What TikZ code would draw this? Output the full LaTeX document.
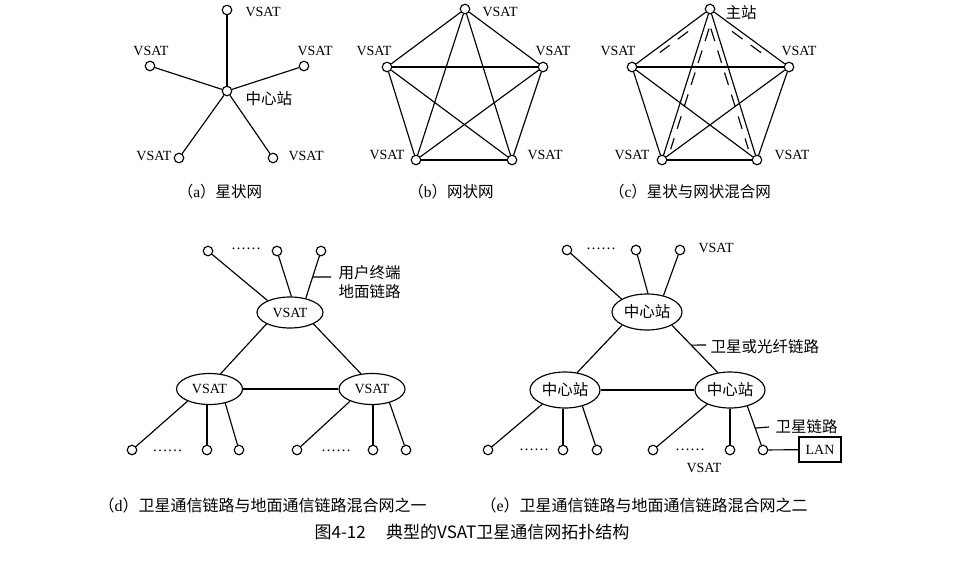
\documentclass[tikz,border=0pt]{standalone}
\usepackage{fontspec}
\setmainfont{Liberation Serif}
\newfontfamily\cjk{Noto Sans CJK SC}
\usetikzlibrary{shapes.geometric,calc}
\tikzset{
 stn/.style={circle,draw,fill=white,minimum size=9.5pt,inner sep=0pt},
 lbl/.style={inner sep=0pt,font=\fontsize{14}{16}\selectfont},
 zh/.style={inner sep=0pt,font=\fontsize{15.5}{19}\selectfont\cjk},
 capabc/.style={inner sep=0pt,font=\fontsize{15.5}{18}\selectfont},
 capde/.style={inner sep=0pt,anchor=west,font=\fontsize{16}{19}\selectfont},
 vell/.style={ellipse,draw,inner sep=0pt,minimum width=66pt,minimum height=31pt,font=\fontsize{14}{16}\selectfont},
 zell/.style={ellipse,draw,inner sep=0pt,minimum width=70pt,minimum height=36pt,font=\fontsize{15.5}{18}\selectfont\cjk},
 dotsnode/.style={inner sep=0pt,anchor=base,font=\fontsize{15}{16}\selectfont},
 dashln/.style={dash pattern=on 13pt off 10pt},
}
\begin{document}
\begin{tikzpicture}[x=1pt,y=-1pt,line width=1.15pt]
\useasboundingbox (0,0) rectangle (969,562);
% ---------- (a) ----------
\node[stn] (aC) at (227,91) {};
\node[stn] (a1) at (227,10) {};
\node[stn] (a2) at (150,66) {};
\node[stn] (a3) at (304,66) {};
\node[stn] (a4) at (179,158) {};
\node[stn] (a5) at (273,158) {};
\foreach \i in {1,...,5} \draw (aC) -- (a\i);
\node[lbl,anchor=west] (la1) at (245,12) {VSAT};
\node[lbl] (la2) at (151,51) {VSAT};
\node[lbl,anchor=west] (la3) at (297,51) {VSAT};
\node[lbl,anchor=east] (la4) at (172,156) {VSAT};
\node[lbl,anchor=west] (la5) at (288,156) {VSAT};
\node[zh,anchor=west] (laC) at (245,99) {中心站};
\node[capabc] (capa) at (220,192) {{\cjk （}a{\cjk ）星状网}};
% ---------- (b) ----------
\node[stn] (bT) at (465,9) {};
\node[stn] (bL) at (387,67) {};
\node[stn] (bR) at (543,67) {};
\node[stn] (bBL) at (416,160) {};
\node[stn] (bBR) at (512,160) {};
\foreach \p/\q in {bT/bL,bT/bR,bT/bBL,bT/bBR,bL/bR,bL/bBL,bL/bBR,bR/bBL,bR/bBR,bBL/bBR} \draw (\p) -- (\q);
\node[lbl,anchor=west] (lb1) at (482,12) {VSAT};
\node[lbl] (lb2) at (374,51) {VSAT};
\node[lbl] (lb3) at (553,51) {VSAT};
\node[lbl] (lb4) at (387,155) {VSAT};
\node[lbl,anchor=west] (lb5) at (527,155) {VSAT};
\node[capabc] (capb) at (451,192) {{\cjk （}b{\cjk ）网状网}};
% ---------- (c) ----------
\node[stn] (cT) at (710,9) {};
\node[stn] (cL) at (632,67) {};
\node[stn] (cR) at (789,67) {};
\node[stn] (cBL) at (662,160) {};
\node[stn] (cBR) at (757,160) {};
\foreach \p/\q in {cT/cL,cT/cR,cT/cBL,cT/cBR,cL/cR,cL/cBL,cL/cBR,cR/cBL,cR/cBR,cBL/cBR} \draw (\p) -- (\q);
\draw[dashln,shorten <=31pt,shorten >=31pt] ($(cT)!5pt!90:(cL)$) -- ($(cL)!5pt!-90:(cT)$);
\draw[dashln,shorten <=31pt,shorten >=31pt] ($(cT)!5pt!-90:(cR)$) -- ($(cR)!5pt!90:(cT)$);
\draw[dashln,shorten <=19pt,shorten >=13pt] ($(cT)!5pt!90:(cBL)$) -- ($(cBL)!5pt!-90:(cT)$);
\draw[dashln,shorten <=19pt,shorten >=13pt] ($(cT)!5pt!-90:(cBR)$) -- ($(cBR)!5pt!90:(cT)$);
\node[zh,anchor=west] (lc1) at (725,13) {主站};
\node[lbl] (lc2) at (618,51) {VSAT};
\node[lbl] (lc3) at (799,51) {VSAT};
\node[lbl] (lc4) at (632,155) {VSAT};
\node[lbl] (lc5) at (792,155) {VSAT};
\node[capabc] (capc) at (690,192) {{\cjk （}c{\cjk ）星状与网状混合网}};
% ---------- (d) ----------
\node[vell] (dT) at (290,312.5) {VSAT};
\node[vell] (dL) at (209.5,389) {VSAT};
\node[vell] (dR) at (372,389) {VSAT};
\node[stn] (d1) at (208,251) {};
\node[stn] (d2) at (277,251) {};
\node[stn] (d3) at (321,251) {};
\node[stn] (d4) at (132,450) {};
\node[stn] (d5) at (207,450) {};
\node[stn] (d6) at (239,450) {};
\node[stn] (d7) at (297,450) {};
\node[stn] (d8) at (373,450) {};
\node[stn] (d9) at (406,450) {};
\draw (d1) -- (dT.152);
\draw (d2) -- (dT.85);
\draw (d3) -- (dT.42);
\draw (dT.206) -- (dL.54);
\draw (dT.334) -- (dR.126);
\draw (dL) -- (dR);
\draw (d4) -- (dL.209);
\draw (d5) -- (d5 |- dL.south);
\draw (d6) -- (dL.318);
\draw (d7) -- (dR.209);
\draw (d8) -- (d8 |- dR.south);
\draw (d9) -- (dR.322);
\node[dotsnode] (dd1) at (246,249.5) {……};
\node[dotsnode] (dd2) at (167.5,451) {……};
\node[dotsnode] (dd3) at (336,451) {……};
\node[zh,anchor=west,align=left] (dlab) at (338,282.5) {用户终端\\地面链路};
\coordinate (dlk) at ($(d3)!0.55!(dT.42)$);
\coordinate (dle) at (331,277);
\draw (dlk) -- (dle);
\node[capde] (capd) at (98,505) {{\cjk （}d{\cjk ）卫星通信链路与地面通信链路混合网之一}};
% ---------- (e) ----------
\node[zell] (eT) at (647,312) {中心站};
\node[zell] (eL) at (565,390) {中心站};
\node[zell] (eR) at (730,390) {中心站};
\node[stn] (e1) at (567,250) {};
\node[stn] (e2) at (636,250) {};
\node[stn] (e3) at (680,250) {};
\node[stn] (e4) at (488,450) {};
\node[stn] (e5) at (563,450) {};
\node[stn] (e6) at (597,450) {};
\node[stn] (e7) at (653,450) {};
\node[stn] (e8) at (730,450) {};
\node[stn] (e9) at (763,450) {};
\draw (e1) -- (eT.153);
\draw (e2) -- (eT.87);
\draw (e3) -- (eT.45);
\draw (eT.208) -- (eL.55);
\draw (eT.332) -- (eR.125);
\draw (eL) -- (eR);
\draw (e4) -- (eL.212);
\draw (e5) -- (e5 |- eL.south);
\draw (e6) -- (eL.317);
\draw (e7) -- (eR.212);
\draw (e8) -- (eR);
\draw (e9) -- (eR.317);
\node[dotsnode] (ed1) at (601,249.5) {……};
\node[dotsnode] (ed2) at (534,450.5) {……};
\node[dotsnode] (ed3) at (690,450.5) {……};
\node[lbl,anchor=west] (leV1) at (698,248) {VSAT};
\node[lbl] (leV2) at (704,468) {VSAT};
\node[zh,anchor=west] (elab1) at (710,347) {卫星或光纤链路};
\node[zh,anchor=west] (elab2) at (775,427) {卫星链路};
\coordinate (ek1) at ($(eT.332)!0.42!(eR.125)$);
\coordinate (ek1e) at (706,345);
\draw (ek1) -- (ek1e);
\coordinate (ek2) at ($(eR.317)!0.5!(e9)$);
\coordinate (ek2e) at (769,427);
\draw (ek2) -- (ek2e);
\node[lbl,draw,minimum width=42pt,minimum height=25pt] (lan) at (820,449.5) {LAN};
\draw (e9) -- (lan);
\node[capde] (cape) at (480,505) {{\cjk （}e{\cjk ）卫星通信链路与地面通信链路混合网之二}};
% ---------- main caption ----------
\node[inner sep=0pt,anchor=west,font=\fontsize{17}{20}\selectfont\cjk] (maincap) at (314,532) {图4-12\hspace{1.2em}典型的VSAT卫星通信网拓扑结构};
\end{tikzpicture}
\end{document}
